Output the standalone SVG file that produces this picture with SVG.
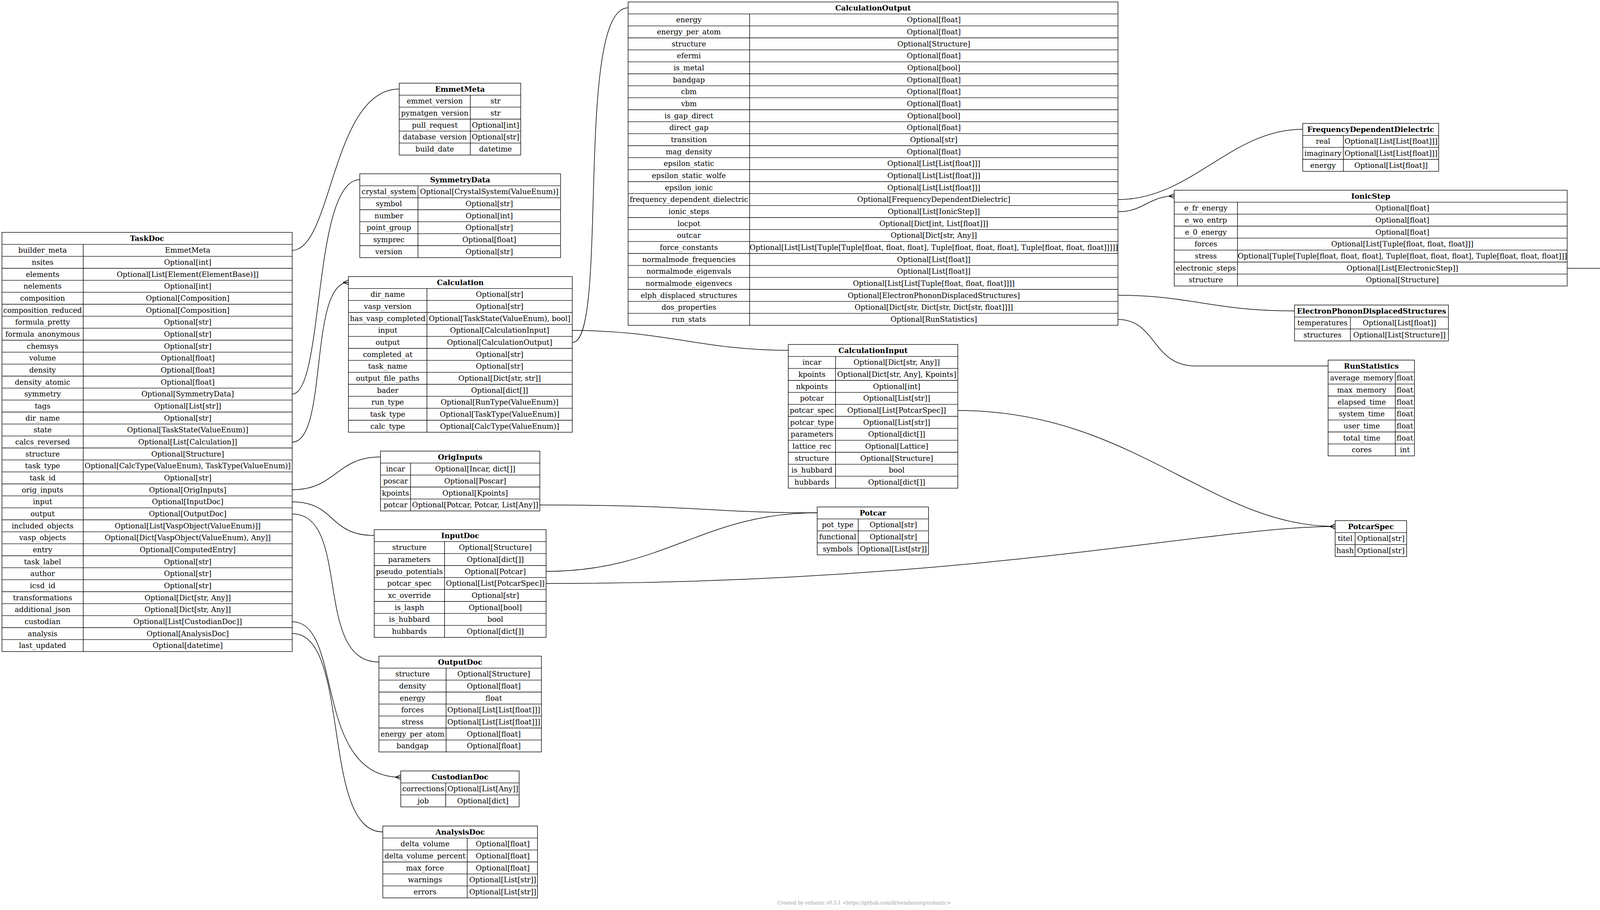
<svg xmlns="http://www.w3.org/2000/svg" width="4424" height="2330" viewBox="0 0 4424 2330">
<style>
text{font-family:"DejaVu Serif","Liberation Serif",serif;font-size:18.67px;text-anchor:middle;fill:#000}
.t{font-weight:bold}
.box{fill:#fff;stroke:#000;stroke-width:1.4}
.ln{fill:none;stroke:#000;stroke-width:1.4}
.e{fill:none;stroke:#000;stroke-width:1.5}
.foot{font-size:12px;fill:#a0a0a0}
</style>
<defs>
<marker id="crow" markerUnits="userSpaceOnUse" markerWidth="16" markerHeight="16" viewBox="0 -8 16 16" refX="14" refY="0" orient="auto">
<path d="M14,-6 L0,0 L14,6 M0,0 L14,0" fill="none" stroke="#000" stroke-width="1.6"/>
</marker>
</defs>
<rect width="4424" height="2330" fill="#fff"/>

<g id="connectors">
<path class="e" d="M748,641 C 850,641 850,228 1022,228"/>
<path class="e" d="M748,1009 C 830,1009 800,460 921,460"/>
<path class="e" d="M748,1132 C 840,1132 790,723 892,723" marker-end="url(#crow)"/>
<path class="e" d="M748,1254 C 860,1254 860,1170 974,1170"/>
<path class="e" d="M748,1285 C 860,1285 840,1371 958,1371"/>
<path class="e" d="M748,1316 C 900,1316 800,1695 970,1695"/>
<path class="e" d="M748,1592 C 880,1592 800,1990 1026,1990" marker-end="url(#crow)"/>
<path class="e" d="M748,1622 C 900,1622 820,2130 980,2130"/>
<path class="e" d="M1465,846 C 1700,846 1800,897 2018,897"/>
<path class="e" d="M1465,877 C 1560,877 1470,20 1608,20"/>
<path class="e" d="M2862,511 C 3050,511 3150,331 3335,331"/>
<path class="e" d="M2862,542 C 2930,542 2940,502 3006,502" marker-end="url(#crow)"/>
<path class="e" d="M2862,756 C 3050,756 3100,796 3314,796"/>
<path class="e" d="M2862,818 C 2960,818 2950,937 3060,937 L3400,937"/>
<path class="e" d="M4012,687 L4160,687" marker-end="url(#crow)"/>
<path class="e" d="M2452,1051 C 2900,1051 3100,1348 3418,1348" marker-end="url(#crow)"/>
<path class="e" d="M1382,1293 C 1800,1293 1800,1313 2092,1313"/>
<path class="e" d="M1398,1463 C 1700,1463 1800,1313 2092,1313"/>
<path class="e" d="M1398,1494 C 2500,1494 3100,1348 3418,1348" marker-end="url(#crow)"/>
</g>

<g id="TaskDoc" transform="translate(5,595)">
<rect class="box" width="743" height="1073.33"/>
<path class="ln" d="M0,30.67H743M0,61.33H743M0,92H743M0,122.67H743M0,153.33H743M0,184H743M0,214.67H743M0,245.33H743M0,276H743M0,306.67H743M0,337.33H743M0,368H743M0,398.67H743M0,429.33H743M0,460H743M0,490.67H743M0,521.33H743M0,552H743M0,582.67H743M0,613.33H743M0,644H743M0,674.67H743M0,705.33H743M0,736H743M0,766.67H743M0,797.33H743M0,828H743M0,858.67H743M0,889.33H743M0,920H743M0,950.67H743M0,981.33H743M0,1012H743M0,1042.67H743M208,30.67V1073.33"/>
<text class="t" x="371.5" y="21.5">TaskDoc</text>
<text x="104" y="52.17">builder_meta</text><text x="475.5" y="52.17">EmmetMeta</text>
<text x="104" y="82.83">nsites</text><text x="475.5" y="82.83">Optional[int]</text>
<text x="104" y="113.5">elements</text><text x="475.5" y="113.5">Optional[List[Element(ElementBase)]]</text>
<text x="104" y="144.17">nelements</text><text x="475.5" y="144.17">Optional[int]</text>
<text x="104" y="174.83">composition</text><text x="475.5" y="174.83">Optional[Composition]</text>
<text x="104" y="205.5">composition_reduced</text><text x="475.5" y="205.5">Optional[Composition]</text>
<text x="104" y="236.17">formula_pretty</text><text x="475.5" y="236.17">Optional[str]</text>
<text x="104" y="266.83">formula_anonymous</text><text x="475.5" y="266.83">Optional[str]</text>
<text x="104" y="297.5">chemsys</text><text x="475.5" y="297.5">Optional[str]</text>
<text x="104" y="328.17">volume</text><text x="475.5" y="328.17">Optional[float]</text>
<text x="104" y="358.83">density</text><text x="475.5" y="358.83">Optional[float]</text>
<text x="104" y="389.5">density_atomic</text><text x="475.5" y="389.5">Optional[float]</text>
<text x="104" y="420.17">symmetry</text><text x="475.5" y="420.17">Optional[SymmetryData]</text>
<text x="104" y="450.83">tags</text><text x="475.5" y="450.83">Optional[List[str]]</text>
<text x="104" y="481.5">dir_name</text><text x="475.5" y="481.5">Optional[str]</text>
<text x="104" y="512.17">state</text><text x="475.5" y="512.17">Optional[TaskState(ValueEnum)]</text>
<text x="104" y="542.83">calcs_reversed</text><text x="475.5" y="542.83">Optional[List[Calculation]]</text>
<text x="104" y="573.5">structure</text><text x="475.5" y="573.5">Optional[Structure]</text>
<text x="104" y="604.17">task_type</text><text x="475.5" y="604.17">Optional[CalcType(ValueEnum), TaskType(ValueEnum)]</text>
<text x="104" y="634.83">task_id</text><text x="475.5" y="634.83">Optional[str]</text>
<text x="104" y="665.5">orig_inputs</text><text x="475.5" y="665.5">Optional[OrigInputs]</text>
<text x="104" y="696.17">input</text><text x="475.5" y="696.17">Optional[InputDoc]</text>
<text x="104" y="726.83">output</text><text x="475.5" y="726.83">Optional[OutputDoc]</text>
<text x="104" y="757.5">included_objects</text><text x="475.5" y="757.5">Optional[List[VaspObject(ValueEnum)]]</text>
<text x="104" y="788.17">vasp_objects</text><text x="475.5" y="788.17">Optional[Dict[VaspObject(ValueEnum), Any]]</text>
<text x="104" y="818.83">entry</text><text x="475.5" y="818.83">Optional[ComputedEntry]</text>
<text x="104" y="849.5">task_label</text><text x="475.5" y="849.5">Optional[str]</text>
<text x="104" y="880.17">author</text><text x="475.5" y="880.17">Optional[str]</text>
<text x="104" y="910.83">icsd_id</text><text x="475.5" y="910.83">Optional[str]</text>
<text x="104" y="941.5">transformations</text><text x="475.5" y="941.5">Optional[Dict[str, Any]]</text>
<text x="104" y="972.17">additional_json</text><text x="475.5" y="972.17">Optional[Dict[str, Any]]</text>
<text x="104" y="1002.83">custodian</text><text x="475.5" y="1002.83">Optional[List[CustodianDoc]]</text>
<text x="104" y="1033.5">analysis</text><text x="475.5" y="1033.5">Optional[AnalysisDoc]</text>
<text x="104" y="1064.17">last_updated</text><text x="475.5" y="1064.17">Optional[datetime]</text>
</g>

<g id="EmmetMeta" transform="translate(1022,213)">
<rect class="box" width="311" height="184"/>
<path class="ln" d="M0,30.67H311M0,61.33H311M0,92H311M0,122.67H311M0,153.33H311M182,30.67V184"/>
<text class="t" x="155.5" y="21.5">EmmetMeta</text>
<text x="91" y="52.17">emmet_version</text><text x="246.5" y="52.17">str</text>
<text x="91" y="82.83">pymatgen_version</text><text x="246.5" y="82.83">str</text>
<text x="91" y="113.5">pull_request</text><text x="246.5" y="113.5">Optional[int]</text>
<text x="91" y="144.17">database_version</text><text x="246.5" y="144.17">Optional[str]</text>
<text x="91" y="174.83">build_date</text><text x="246.5" y="174.83">datetime</text>
</g>

<g id="SymmetryData" transform="translate(921,445)">
<rect class="box" width="514" height="214.67"/>
<path class="ln" d="M0,30.67H514M0,61.33H514M0,92H514M0,122.67H514M0,153.33H514M0,184H514M149,30.67V214.67"/>
<text class="t" x="257" y="21.5">SymmetryData</text>
<text x="74.5" y="52.17">crystal_system</text><text x="331.5" y="52.17">Optional[CrystalSystem(ValueEnum)]</text>
<text x="74.5" y="82.83">symbol</text><text x="331.5" y="82.83">Optional[str]</text>
<text x="74.5" y="113.5">number</text><text x="331.5" y="113.5">Optional[int]</text>
<text x="74.5" y="144.17">point_group</text><text x="331.5" y="144.17">Optional[str]</text>
<text x="74.5" y="174.83">symprec</text><text x="331.5" y="174.83">Optional[float]</text>
<text x="74.5" y="205.5">version</text><text x="331.5" y="205.5">Optional[str]</text>
</g>

<g id="Calculation" transform="translate(892,708)">
<rect class="box" width="573" height="398.67"/>
<path class="ln" d="M0,30.67H573M0,61.33H573M0,92H573M0,122.67H573M0,153.33H573M0,184H573M0,214.67H573M0,245.33H573M0,276H573M0,306.67H573M0,337.33H573M0,368H573M201,30.67V398.67"/>
<text class="t" x="286.5" y="21.5">Calculation</text>
<text x="100.5" y="52.17">dir_name</text><text x="387" y="52.17">Optional[str]</text>
<text x="100.5" y="82.83">vasp_version</text><text x="387" y="82.83">Optional[str]</text>
<text x="100.5" y="113.5">has_vasp_completed</text><text x="387" y="113.5">Optional[TaskState(ValueEnum), bool]</text>
<text x="100.5" y="144.17">input</text><text x="387" y="144.17">Optional[CalculationInput]</text>
<text x="100.5" y="174.83">output</text><text x="387" y="174.83">Optional[CalculationOutput]</text>
<text x="100.5" y="205.5">completed_at</text><text x="387" y="205.5">Optional[str]</text>
<text x="100.5" y="236.17">task_name</text><text x="387" y="236.17">Optional[str]</text>
<text x="100.5" y="266.83">output_file_paths</text><text x="387" y="266.83">Optional[Dict[str, str]]</text>
<text x="100.5" y="297.5">bader</text><text x="387" y="297.5">Optional[dict[]]</text>
<text x="100.5" y="328.17">run_type</text><text x="387" y="328.17">Optional[RunType(ValueEnum)]</text>
<text x="100.5" y="358.83">task_type</text><text x="387" y="358.83">Optional[TaskType(ValueEnum)]</text>
<text x="100.5" y="389.5">calc_type</text><text x="387" y="389.5">Optional[CalcType(ValueEnum)]</text>
</g>

<g id="CalculationOutput" transform="translate(1608,5)">
<rect class="box" width="1254" height="828"/>
<path class="ln" d="M0,30.67H1254M0,61.33H1254M0,92H1254M0,122.67H1254M0,153.33H1254M0,184H1254M0,214.67H1254M0,245.33H1254M0,276H1254M0,306.67H1254M0,337.33H1254M0,368H1254M0,398.67H1254M0,429.33H1254M0,460H1254M0,490.67H1254M0,521.33H1254M0,552H1254M0,582.67H1254M0,613.33H1254M0,644H1254M0,674.67H1254M0,705.33H1254M0,736H1254M0,766.67H1254M0,797.33H1254M311,30.67V828"/>
<text class="t" x="627" y="21.5">CalculationOutput</text>
<text x="155.5" y="52.17">energy</text><text x="782.5" y="52.17">Optional[float]</text>
<text x="155.5" y="82.83">energy_per_atom</text><text x="782.5" y="82.83">Optional[float]</text>
<text x="155.5" y="113.5">structure</text><text x="782.5" y="113.5">Optional[Structure]</text>
<text x="155.5" y="144.17">efermi</text><text x="782.5" y="144.17">Optional[float]</text>
<text x="155.5" y="174.83">is_metal</text><text x="782.5" y="174.83">Optional[bool]</text>
<text x="155.5" y="205.5">bandgap</text><text x="782.5" y="205.5">Optional[float]</text>
<text x="155.5" y="236.17">cbm</text><text x="782.5" y="236.17">Optional[float]</text>
<text x="155.5" y="266.83">vbm</text><text x="782.5" y="266.83">Optional[float]</text>
<text x="155.5" y="297.5">is_gap_direct</text><text x="782.5" y="297.5">Optional[bool]</text>
<text x="155.5" y="328.17">direct_gap</text><text x="782.5" y="328.17">Optional[float]</text>
<text x="155.5" y="358.83">transition</text><text x="782.5" y="358.83">Optional[str]</text>
<text x="155.5" y="389.5">mag_density</text><text x="782.5" y="389.5">Optional[float]</text>
<text x="155.5" y="420.17">epsilon_static</text><text x="782.5" y="420.17">Optional[List[List[float]]]</text>
<text x="155.5" y="450.83">epsilon_static_wolfe</text><text x="782.5" y="450.83">Optional[List[List[float]]]</text>
<text x="155.5" y="481.5">epsilon_ionic</text><text x="782.5" y="481.5">Optional[List[List[float]]]</text>
<text x="155.5" y="512.17">frequency_dependent_dielectric</text><text x="782.5" y="512.17">Optional[FrequencyDependentDielectric]</text>
<text x="155.5" y="542.83">ionic_steps</text><text x="782.5" y="542.83">Optional[List[IonicStep]]</text>
<text x="155.5" y="573.5">locpot</text><text x="782.5" y="573.5">Optional[Dict[int, List[float]]]</text>
<text x="155.5" y="604.17">outcar</text><text x="782.5" y="604.17">Optional[Dict[str, Any]]</text>
<text x="155.5" y="634.83">force_constants</text><text x="782.5" y="634.83">Optional[List[List[Tuple[Tuple[float, float, float], Tuple[float, float, float], Tuple[float, float, float]]]]]</text>
<text x="155.5" y="665.5">normalmode_frequencies</text><text x="782.5" y="665.5">Optional[List[float]]</text>
<text x="155.5" y="696.17">normalmode_eigenvals</text><text x="782.5" y="696.17">Optional[List[float]]</text>
<text x="155.5" y="726.83">normalmode_eigenvecs</text><text x="782.5" y="726.83">Optional[List[List[Tuple[float, float, float]]]]</text>
<text x="155.5" y="757.5">elph_displaced_structures</text><text x="782.5" y="757.5">Optional[ElectronPhononDisplacedStructures]</text>
<text x="155.5" y="788.17">dos_properties</text><text x="782.5" y="788.17">Optional[Dict[str, Dict[str, Dict[str, float]]]]</text>
<text x="155.5" y="818.83">run_stats</text><text x="782.5" y="818.83">Optional[RunStatistics]</text>
</g>

<g id="FrequencyDependentDielectric" transform="translate(3335,316)">
<rect class="box" width="348" height="122.67"/>
<path class="ln" d="M0,30.67H348M0,61.33H348M0,92H348M104,30.67V122.67"/>
<text class="t" x="174" y="21.5">FrequencyDependentDielectric</text>
<text x="52" y="52.17">real</text><text x="226" y="52.17">Optional[List[List[float]]]</text>
<text x="52" y="82.83">imaginary</text><text x="226" y="82.83">Optional[List[List[float]]]</text>
<text x="52" y="113.5">energy</text><text x="226" y="113.5">Optional[List[float]]</text>
</g>

<g id="IonicStep" transform="translate(3006,487)">
<rect class="box" width="1006" height="245.33"/>
<path class="ln" d="M0,30.67H1006M0,61.33H1006M0,92H1006M0,122.67H1006M0,153.33H1006M0,184H1006M0,214.67H1006M162,30.67V245.33"/>
<text class="t" x="503" y="21.5">IonicStep</text>
<text x="81" y="52.17">e_fr_energy</text><text x="584" y="52.17">Optional[float]</text>
<text x="81" y="82.83">e_wo_entrp</text><text x="584" y="82.83">Optional[float]</text>
<text x="81" y="113.5">e_0_energy</text><text x="584" y="113.5">Optional[float]</text>
<text x="81" y="144.17">forces</text><text x="584" y="144.17">Optional[List[Tuple[float, float, float]]]</text>
<text x="81" y="174.83">stress</text><text x="584" y="174.83">Optional[Tuple[Tuple[float, float, float], Tuple[float, float, float], Tuple[float, float, float]]]</text>
<text x="81" y="205.5">electronic_steps</text><text x="584" y="205.5">Optional[List[ElectronicStep]]</text>
<text x="81" y="236.17">structure</text><text x="584" y="236.17">Optional[Structure]</text>
</g>

<g id="ElectronicStep" transform="translate(4160,672)">
<rect class="box" width="261" height="398.67"/>
<path class="ln" d="M0,30.67H261M0,61.33H261M0,92H261M0,122.67H261M0,153.33H261M0,184H261M0,214.67H261M0,245.33H261M0,276H261M0,306.67H261M0,337.33H261M0,368H261M120,30.67V398.67"/>
<text class="t" x="130.5" y="21.5">ElectronicStep</text>
<text x="60" y="52.17">alphaZ</text><text x="190.5" y="52.17">Optional[float]</text>
<text x="60" y="82.83">ewald</text><text x="190.5" y="82.83">Optional[float]</text>
<text x="60" y="113.5">hartreedc</text><text x="190.5" y="113.5">Optional[float]</text>
<text x="60" y="144.17">XCdc</text><text x="190.5" y="144.17">Optional[float]</text>
<text x="60" y="174.83">pawpsdc</text><text x="190.5" y="174.83">Optional[float]</text>
<text x="60" y="205.5">pawaedc</text><text x="190.5" y="205.5">Optional[float]</text>
<text x="60" y="236.17">eentropy</text><text x="190.5" y="236.17">Optional[float]</text>
<text x="60" y="266.83">bandstr</text><text x="190.5" y="266.83">Optional[float]</text>
<text x="60" y="297.5">atom</text><text x="190.5" y="297.5">Optional[float]</text>
<text x="60" y="328.17">e_fr_energy</text><text x="190.5" y="328.17">Optional[float]</text>
<text x="60" y="358.83">e_wo_entrp</text><text x="190.5" y="358.83">Optional[float]</text>
<text x="60" y="389.5">e_0_energy</text><text x="190.5" y="389.5">Optional[float]</text>
</g>

<g id="ElectronPhononDisplacedStructures" transform="translate(3314,781)">
<rect class="box" width="394" height="92"/>
<path class="ln" d="M0,30.67H394M0,61.33H394M143,30.67V92"/>
<text class="t" x="197" y="21.5">ElectronPhononDisplacedStructures</text>
<text x="71.5" y="52.17">temperatures</text><text x="268.5" y="52.17">Optional[List[float]]</text>
<text x="71.5" y="82.83">structures</text><text x="268.5" y="82.83">Optional[List[Structure]]</text>
</g>

<g id="RunStatistics" transform="translate(3400,922)">
<rect class="box" width="221" height="245.33"/>
<path class="ln" d="M0,30.67H221M0,61.33H221M0,92H221M0,122.67H221M0,153.33H221M0,184H221M0,214.67H221M172,30.67V245.33"/>
<text class="t" x="110.5" y="21.5">RunStatistics</text>
<text x="86" y="52.17">average_memory</text><text x="196.5" y="52.17">float</text>
<text x="86" y="82.83">max_memory</text><text x="196.5" y="82.83">float</text>
<text x="86" y="113.5">elapsed_time</text><text x="196.5" y="113.5">float</text>
<text x="86" y="144.17">system_time</text><text x="196.5" y="144.17">float</text>
<text x="86" y="174.83">user_time</text><text x="196.5" y="174.83">float</text>
<text x="86" y="205.5">total_time</text><text x="196.5" y="205.5">float</text>
<text x="86" y="236.17">cores</text><text x="196.5" y="236.17">int</text>
</g>

<g id="CalculationInput" transform="translate(2018,882)">
<rect class="box" width="434" height="368"/>
<path class="ln" d="M0,30.67H434M0,61.33H434M0,92H434M0,122.67H434M0,153.33H434M0,184H434M0,214.67H434M0,245.33H434M0,276H434M0,306.67H434M0,337.33H434M121,30.67V368"/>
<text class="t" x="217" y="21.5">CalculationInput</text>
<text x="60.5" y="52.17">incar</text><text x="277.5" y="52.17">Optional[Dict[str, Any]]</text>
<text x="60.5" y="82.83">kpoints</text><text x="277.5" y="82.83">Optional[Dict[str, Any], Kpoints]</text>
<text x="60.5" y="113.5">nkpoints</text><text x="277.5" y="113.5">Optional[int]</text>
<text x="60.5" y="144.17">potcar</text><text x="277.5" y="144.17">Optional[List[str]]</text>
<text x="60.5" y="174.83">potcar_spec</text><text x="277.5" y="174.83">Optional[List[PotcarSpec]]</text>
<text x="60.5" y="205.5">potcar_type</text><text x="277.5" y="205.5">Optional[List[str]]</text>
<text x="60.5" y="236.17">parameters</text><text x="277.5" y="236.17">Optional[dict[]]</text>
<text x="60.5" y="266.83">lattice_rec</text><text x="277.5" y="266.83">Optional[Lattice]</text>
<text x="60.5" y="297.5">structure</text><text x="277.5" y="297.5">Optional[Structure]</text>
<text x="60.5" y="328.17">is_hubbard</text><text x="277.5" y="328.17">bool</text>
<text x="60.5" y="358.83">hubbards</text><text x="277.5" y="358.83">Optional[dict[]]</text>
</g>

<g id="OrigInputs" transform="translate(974,1155)">
<rect class="box" width="408" height="153.33"/>
<path class="ln" d="M0,30.67H408M0,61.33H408M0,92H408M0,122.67H408M77,30.67V153.33"/>
<text class="t" x="204" y="21.5">OrigInputs</text>
<text x="38.5" y="52.17">incar</text><text x="242.5" y="52.17">Optional[Incar, dict[]]</text>
<text x="38.5" y="82.83">poscar</text><text x="242.5" y="82.83">Optional[Poscar]</text>
<text x="38.5" y="113.5">kpoints</text><text x="242.5" y="113.5">Optional[Kpoints]</text>
<text x="38.5" y="144.17">potcar</text><text x="242.5" y="144.17">Optional[Potcar, Potcar, List[Any]]</text>
</g>

<g id="InputDoc" transform="translate(958,1356)">
<rect class="box" width="440" height="276"/>
<path class="ln" d="M0,30.67H440M0,61.33H440M0,92H440M0,122.67H440M0,153.33H440M0,184H440M0,214.67H440M0,245.33H440M180,30.67V276"/>
<text class="t" x="220" y="21.5">InputDoc</text>
<text x="90" y="52.17">structure</text><text x="310" y="52.17">Optional[Structure]</text>
<text x="90" y="82.83">parameters</text><text x="310" y="82.83">Optional[dict[]]</text>
<text x="90" y="113.5">pseudo_potentials</text><text x="310" y="113.5">Optional[Potcar]</text>
<text x="90" y="144.17">potcar_spec</text><text x="310" y="144.17">Optional[List[PotcarSpec]]</text>
<text x="90" y="174.83">xc_override</text><text x="310" y="174.83">Optional[str]</text>
<text x="90" y="205.5">is_lasph</text><text x="310" y="205.5">Optional[bool]</text>
<text x="90" y="236.17">is_hubbard</text><text x="310" y="236.17">bool</text>
<text x="90" y="266.83">hubbards</text><text x="310" y="266.83">Optional[dict[]]</text>
</g>

<g id="Potcar" transform="translate(2092,1298)">
<rect class="box" width="285" height="122.67"/>
<path class="ln" d="M0,30.67H285M0,61.33H285M0,92H285M105,30.67V122.67"/>
<text class="t" x="142.5" y="21.5">Potcar</text>
<text x="52.5" y="52.17">pot_type</text><text x="195" y="52.17">Optional[str]</text>
<text x="52.5" y="82.83">functional</text><text x="195" y="82.83">Optional[str]</text>
<text x="52.5" y="113.5">symbols</text><text x="195" y="113.5">Optional[List[str]]</text>
</g>

<g id="PotcarSpec" transform="translate(3418,1333)">
<rect class="box" width="183" height="92"/>
<path class="ln" d="M0,30.67H183M0,61.33H183M51,30.67V92"/>
<text class="t" x="91.5" y="21.5">PotcarSpec</text>
<text x="25.5" y="52.17">titel</text><text x="117" y="52.17">Optional[str]</text>
<text x="25.5" y="82.83">hash</text><text x="117" y="82.83">Optional[str]</text>
</g>

<g id="OutputDoc" transform="translate(970,1680)">
<rect class="box" width="416" height="245.33"/>
<path class="ln" d="M0,30.67H416M0,61.33H416M0,92H416M0,122.67H416M0,153.33H416M0,184H416M0,214.67H416M172,30.67V245.33"/>
<text class="t" x="208" y="21.5">OutputDoc</text>
<text x="86" y="52.17">structure</text><text x="294" y="52.17">Optional[Structure]</text>
<text x="86" y="82.83">density</text><text x="294" y="82.83">Optional[float]</text>
<text x="86" y="113.5">energy</text><text x="294" y="113.5">float</text>
<text x="86" y="144.17">forces</text><text x="294" y="144.17">Optional[List[List[float]]]</text>
<text x="86" y="174.83">stress</text><text x="294" y="174.83">Optional[List[List[float]]]</text>
<text x="86" y="205.5">energy_per_atom</text><text x="294" y="205.5">Optional[float]</text>
<text x="86" y="236.17">bandgap</text><text x="294" y="236.17">Optional[float]</text>
</g>

<g id="CustodianDoc" transform="translate(1026,1974)">
<rect class="box" width="303" height="92"/>
<path class="ln" d="M0,30.67H303M0,61.33H303M115,30.67V92"/>
<text class="t" x="151.5" y="21.5">CustodianDoc</text>
<text x="57.5" y="52.17">corrections</text><text x="210" y="52.17">Optional[List[Any]]</text>
<text x="57.5" y="82.83">job</text><text x="210" y="82.83">Optional[dict]</text>
</g>

<g id="AnalysisDoc" transform="translate(980,2115)">
<rect class="box" width="396" height="184"/>
<path class="ln" d="M0,30.67H396M0,61.33H396M0,92H396M0,122.67H396M0,153.33H396M216,30.67V184"/>
<text class="t" x="198" y="21.5">AnalysisDoc</text>
<text x="108" y="52.17">delta_volume</text><text x="307" y="52.17">Optional[float]</text>
<text x="108" y="82.83">delta_volume_percent</text><text x="307" y="82.83">Optional[float]</text>
<text x="108" y="113.5">max_force</text><text x="307" y="113.5">Optional[float]</text>
<text x="108" y="144.17">warnings</text><text x="307" y="144.17">Optional[List[str]]</text>
<text x="108" y="174.83">errors</text><text x="307" y="174.83">Optional[List[str]]</text>
</g>

<text class="foot" x="2212" y="2316">Created by erdantic v0.5.1 &lt;https://github.com/drivendataorg/erdantic&gt;</text>
</svg>
